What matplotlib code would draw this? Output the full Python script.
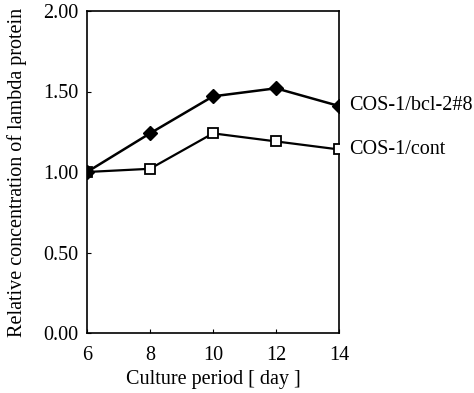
import matplotlib
matplotlib.use("Agg")
import matplotlib.pyplot as plt

days = [6, 8, 10, 12, 14]
bcl2 = [1.00, 1.24, 1.47, 1.52, 1.41]
cont = [1.00, 1.02, 1.24, 1.19, 1.14]
series_labels = ["COS-1/bcl-2#8", "COS-1/cont"]
yticks = [0.0, 0.5, 1.0, 1.5, 2.0]
ytick_labels = ["0.00", "0.50", "1.00", "1.50", "2.00"]

plt.rcParams['font.family'] = ['Liberation Serif', 'DejaVu Serif']

fig = plt.figure(figsize=(4.74, 3.93), dpi=100)
ax = fig.add_axes([87/474, 1-333/393, (339-87)/474, (333-11)/393])

ax.plot(days, cont, color='black', lw=1.6, marker='s', ms=7.5,
        mfc='white', mec='black', mew=1.3, zorder=3)
ax.plot(days, bcl2, color='black', lw=1.8, marker='D', ms=7.5,
        mfc='black', mec='black', zorder=4)

ax.annotate(series_labels[0], (days[-1], bcl2[-1]), xytext=(7, 0),
            textcoords='offset points', va='center', ha='left', fontsize=14.5,
            annotation_clip=False)
ax.annotate(series_labels[1], (days[-1], cont[-1]), xytext=(7, 0),
            textcoords='offset points', va='center', ha='left', fontsize=14.5,
            annotation_clip=False)

ax.set_xlim(6, 14)
ax.set_ylim(0, 2)
ax.set_xticks(days)
ax.set_yticks(yticks)
ax.set_yticklabels(ytick_labels)
ax.tick_params(direction='in', length=3, width=0.8, labelsize=14.5)
ax.tick_params(axis='x', pad=9)
ax.tick_params(axis='y', pad=6)
for s in ax.spines.values():
    s.set_linewidth(1.2)

ax.set_xlabel("Culture period [ day ]", fontsize=14.5, labelpad=4)
ax.set_ylabel("Relative concentration of lambda protein", fontsize=14.5, labelpad=12)

fig.savefig("out.png", dpi=100)
